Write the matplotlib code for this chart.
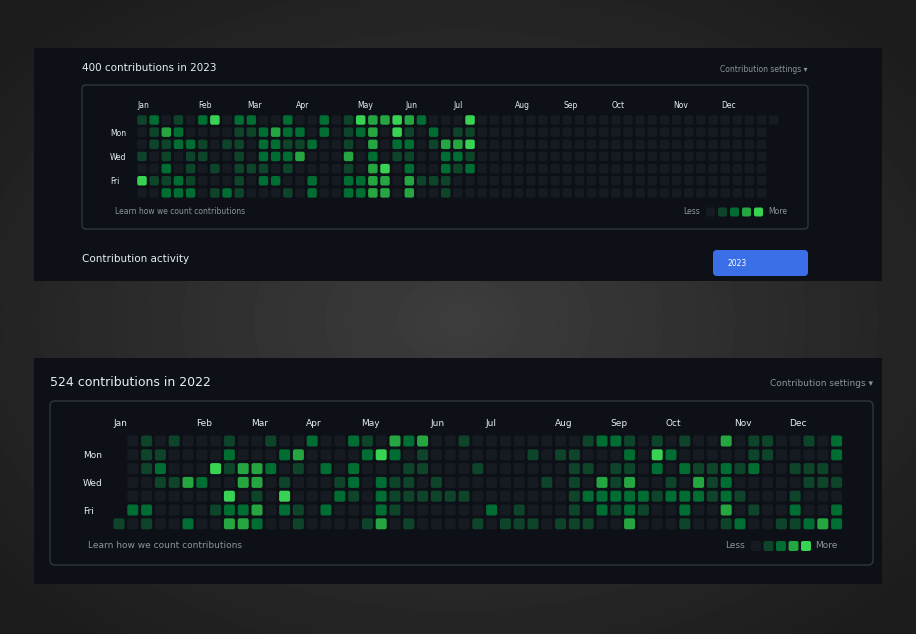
import matplotlib.pyplot as plt
import numpy as np
from matplotlib.patches import FancyBboxPatch, Rectangle

# contribution levels (0-4), one string per weekday row (Sun..Sat), 53 weeks
grid_2023 = [
    "1201024022002002014334320004" + "0" * 25,
    "0132000011232202012304102011" + "0" * 25,
    "0112210110221120010302201334" + "0" * 25,
    "1010110010222300030201100221" + "0" * 25,
    "0020101011101000010340200212" + "0" * 25,
    "4112100010220020022330311100" + "0" * 25,
    "0022201210001020022330300100" + "0" * 25,
]
grid_2022 = [
    "0010100010" "0100200210" "3230010000" "0000122101" "0100301100" "102",
    "0011000020" "0023000024" "2010000000" "1011000204" "2000001100" "002",
    "0012000413" "3201020200" "0110001000" "0001101102" "0211212001" "110",
    "0001132003" "3010001202" "1101000000" "0101031300" "1031200000" "111",
    "0000000040" "1040002102" "1111110000" "0001222221" "2221210001" "000",
    "0220000122" "3021020002" "1000000201" "0001021210" "0200301002" "002",
    "1010020033" "2001000013" "0100001011" "1011100300" "0100120011" "232",
]
months = ["Jan", "Feb", "Mar", "Apr", "May", "Jun", "Jul", "Aug", "Sep", "Oct", "Nov", "Dec"]
month_x_2023 = [137, 198, 247, 296, 357, 405, 453, 515, 563, 612, 673, 721]
month_x_2022 = [113, 196, 251, 306, 361, 430, 485, 555, 610, 665, 734, 789]
level_colors = ["#161b22", "#0e4429", "#006d32", "#26a641", "#39d353"]

W, H = 916, 634
fig = plt.figure(figsize=(W / 100, H / 100), dpi=100)
ax = fig.add_axes([0, 0, 1, 1])
yy, xx = np.mgrid[0:H, 0:W]
d = np.sqrt(((xx - W / 2) / W) ** 2 + ((yy - 320) / H) ** 2)
ax.imshow(np.clip(0.24 - 0.2 * d, 0.11, 0.25), cmap="gray", vmin=0, vmax=1,
          extent=[0, W, H, 0], aspect="auto", interpolation="bilinear")
ax.set_xlim(0, W)
ax.set_ylim(H, 0)
ax.axis("off")

TXT = "#e6edf3"
SUB = "#8b949e"


def draw_grid(rows, x0, y0, step, size, first_col_start, last_col_rows):
    n_cols = len(rows[0])
    for r, row in enumerate(rows):
        for c in range(n_cols):
            if c == 0 and r < first_col_start:
                continue
            if c == n_cols - 1 and r >= last_col_rows:
                continue
            ax.add_patch(FancyBboxPatch((x0 + c * step - size / 2, y0 + r * step - size / 2),
                                        size, size, boxstyle="round,pad=0,rounding_size=2",
                                        fc=level_colors[int(row[c])], ec="none"))


def legend(x0, y, step, size, fs):
    ax.text(x0 - 6, y, "Less", color=SUB, fontsize=fs, ha="right", va="center")
    for i, col in enumerate(level_colors):
        ax.add_patch(FancyBboxPatch((x0 + i * step, y - size / 2), size, size,
                                    boxstyle="round,pad=0,rounding_size=2", fc=col, ec="none"))
    ax.text(x0 + 5 * step + 2, y, "More", color=SUB, fontsize=fs, va="center")


# ---- top panel (2023)
ax.add_patch(Rectangle((34, 48), 848, 233, fc="#0d1117", ec="none"))
ax.add_patch(FancyBboxPatch((82, 85), 726, 144, boxstyle="round,pad=0,rounding_size=4",
                            fc="#0d1117", ec="#30363d", lw=1))
ax.text(82, 68, "400 contributions in 2023", color=TXT, fontsize=7.5, va="center")
ax.text(808, 69, "Contribution settings \u25BE", color=SUB, fontsize=5.5, ha="right", va="center")
for m, x in zip(months, month_x_2023):
    ax.text(x, 105, m, color=TXT, fontsize=5.5, va="center")
for lab, y in [("Mon", 133), ("Wed", 158), ("Fri", 182)]:
    ax.text(110, y, lab, color=TXT, fontsize=5.5, va="center")
draw_grid(grid_2023, 142, 120, 12.15, 9.5, 0, 1)
ax.text(115, 212, "Learn how we count contributions", color=SUB, fontsize=5.5, va="center")
legend(706, 212, 12, 9, 5.5)
ax.text(82, 259, "Contribution activity", color=TXT, fontsize=7.5, va="center")
ax.add_patch(FancyBboxPatch((713, 250), 95, 26, boxstyle="round,pad=0,rounding_size=4",
                            fc="#3b6fe8", ec="none"))
ax.text(727, 263, "2023", color="white", fontsize=5.5, va="center")

# ---- bottom panel (2022)
ax.add_patch(Rectangle((34, 358), 848, 226, fc="#0d1117", ec="none"))
ax.add_patch(FancyBboxPatch((50, 401), 823, 164, boxstyle="round,pad=0,rounding_size=5",
                            fc="#0d1117", ec="#30363d", lw=1))
ax.text(50, 382, "524 contributions in 2022", color=TXT, fontsize=9, va="center")
ax.text(873, 383, "Contribution settings \u25BE", color=SUB, fontsize=6.5, ha="right", va="center")
for m, x in zip(months, month_x_2022):
    ax.text(x, 424, m, color=TXT, fontsize=6.5, va="center")
for lab, y in [("Mon", 456), ("Wed", 484), ("Fri", 511)]:
    ax.text(83, y, lab, color=TXT, fontsize=6.5, va="center")
draw_grid(grid_2022, 119, 441, 13.8, 11, 6, 7)
ax.text(88, 546, "Learn how we count contributions", color=SUB, fontsize=6.5, va="center")
legend(751, 546, 12.5, 10, 6.5)

fig.savefig("out.png", dpi=100)
